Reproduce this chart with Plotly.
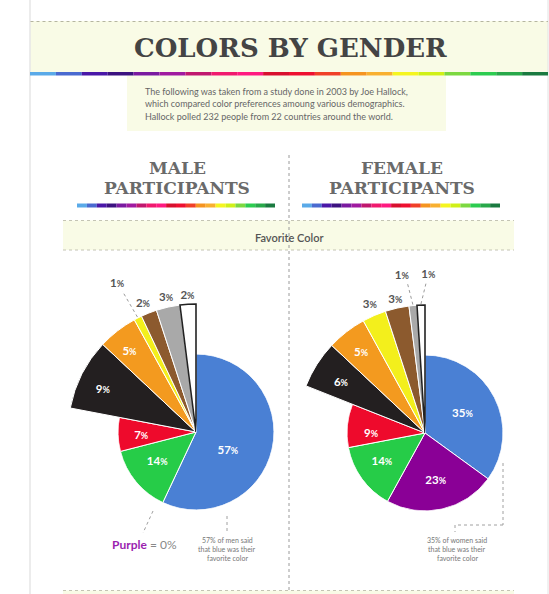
import math
import plotly.graph_objects as go

# ---------------- data ----------------
CATEGORIES = ["Blue", "Purple", "Green", "Red", "Black", "Orange", "Yellow", "Brown", "Grey", "White"]
MALE_PCT = [57, 0, 14, 7, 9, 5, 1, 2, 3, 2]
FEMALE_PCT = [35, 23, 14, 9, 6, 5, 3, 3, 1, 1]

TITLE = "COLORS BY GENDER"
INTRO_LINES = [
    "The following was taken from a study done in 2003 by Joe Hallock,",
    "which compared color preferences amoung various demographics.",
    "Hallock polled 232 people from 22 countries around the world.",
]
PANEL_TITLES = [("MALE", "PARTICIPANTS"), ("FEMALE", "PARTICIPANTS")]
SECTION_TITLE = "Favorite Color"
NOTES = [
    ["57% of men said", "that blue was their", "favorite color"],
    ["35% of women said", "that blue was their", "favorite color"],
]
ZERO_NOTE = ("Purple", "= 0%")

# ---------------- style ----------------
W, H = 549, 594
SLICE_COLORS = {
    "Blue": "#4a80d4", "Purple": "#8a0096", "Green": "#26cc48", "Red": "#ee0a2c",
    "Black": "#231f20", "Orange": "#f39a1f", "Yellow": "#f3ef1c", "Brown": "#8c5a2e",
    "Grey": "#a9a9a9", "White": "#ffffff",
}
RAISED = {"Black", "Orange", "Yellow", "Brown", "Grey", "White"}
R_LOW, R_HIGH, R_MAX = 78, 128, 170
STRIPE = ["#5aaae8", "#4a6ad0", "#4a18a8", "#3c1280", "#7a1aa0", "#a01aa0", "#c0186e",
          "#f01a6e", "#ff1a80", "#d8102e", "#ee1030", "#f04028", "#f59420", "#f8b030",
          "#f5f520", "#d0f018", "#7cd840", "#2ccc50", "#28a84a", "#1a7a40"]
BAND = "#f9fbe6"
SANS = "Lato"
SERIF = "DejaVu Serif"

# label placement: category -> (radius, theta nudge, inside?)
LABEL_POS = [
    {"Blue": (37, 18, True), "Green": (49, 2, True), "Red": (55, -3, True),
     "Black": (102, -3, True), "Orange": (104, -2, True), "Yellow": (168, -1, False),
     "Brown": (138, -1, False), "Grey": (137, 0, False), "White": (136, 0, False)},
    {"Blue": (42, 0, True), "Purple": (49, 0, True), "Green": (52, 2, True), "Red": (54, -7, True),
     "Black": (98, -1.5, True), "Orange": (102, -1, True), "Yellow": (139, 0, False),
     "Brown": (136, 0, False), "Grey": (159, -3, False), "White": (158, 3, False)},
]
# dotted leaders for thin slices: category -> (r0, r1, theta nudge at top)
LEADERS = [
    {"Yellow": (129, 159, -0.6)},
    {"Grey": (129, 151, -1.3), "White": (129, 151, 2.3)},
]
CENTERS = [(196, 432), (425, 433)]
SECTOR_HIGH = [85, 185]


def px(x):
    return x / W


def py(y):
    return 1 - y / H


def bbox(sector):
    a0, a1 = sector
    xs, ys = [0.0], [0.0]
    for a in (a0, a1):
        xs.append(math.cos(math.radians(a)))
        ys.append(math.sin(math.radians(a)))
    for a in (0, 90, 180, 270, 360):
        if a0 <= a <= a1:
            xs.append(math.cos(math.radians(a)))
            ys.append(math.sin(math.radians(a)))
    return min(xs), min(ys), max(xs), max(ys)


def domain(cx, cy, R, sector):
    x0, y0, x1, y1 = bbox(sector)
    left, right = cx + R * x0, cx + R * x1
    top, bottom = cy - R * y1, cy - R * y0
    return dict(x=[px(left), px(right)], y=[py(bottom), py(top)])


fig = go.Figure()
layout_polars = {}
annotations = []
shapes = []

for gi, values in enumerate([MALE_PCT, FEMALE_PCT]):
    cx, cy = CENTERS[gi]
    low_key = "polar" if gi == 0 else f"polar{2 * gi + 1}"
    high_key = f"polar{2 * gi + 2}"

    cum = 0.0
    centers = {}
    widths = {}
    for cat, v in zip(CATEGORIES, values):
        centers[cat] = (cum + v / 2) * 3.6
        widths[cat] = v * 3.6
        cum += v

    for raised, ref in ((False, low_key), (True, high_key)):
        cats = [c for c, v in zip(CATEGORIES, values) if v > 0 and ((c in RAISED) == raised)]
        rad = R_HIGH if raised else R_LOW
        fig.add_trace(go.Barpolar(
            r=[rad] * len(cats),
            theta=[centers[c] for c in cats],
            width=[widths[c] for c in cats],
            marker=dict(
                color=[SLICE_COLORS[c] for c in cats],
                line=dict(color=["#222222" if c == "White" else "#ffffff" for c in cats],
                          width=[1.6 if c == "White" else 1 for c in cats]),
            ),
            subplot=ref, showlegend=False, hoverinfo="skip",
        ))

        lab_cats = [c for c in cats if c in LABEL_POS[gi]]
        texts, rs, ths, cols = [], [], [], []
        for c in lab_cats:
            r_l, dth, inside = LABEL_POS[gi][c]
            v = values[CATEGORIES.index(c)]
            texts.append(f"<b>{v}<span style='font-size:9px'>%</span></b>")
            rs.append(r_l)
            ths.append(centers[c] + dth)
            cols.append("#ffffff" if inside else "#555555")
        fig.add_trace(go.Scatterpolar(
            r=rs, theta=ths, mode="text", text=texts,
            textfont=dict(family=SANS, size=11.5, color=cols),
            textposition="middle center", cliponaxis=False,
            subplot=ref, showlegend=False, hoverinfo="skip",
        ))

        if raised:
            for c, (r0, r1, dth) in LEADERS[gi].items():
                fig.add_trace(go.Scatterpolar(
                    r=[r0, r1], theta=[centers[c], centers[c] + dth], mode="lines",
                    line=dict(color="#9a9a9a", width=1, dash="dot"),
                    subplot=ref, showlegend=False, hoverinfo="skip",
                ))

    common = dict(
        bgcolor="rgba(0,0,0,0)",
        angularaxis=dict(visible=False, rotation=90, direction="clockwise",
                         showgrid=False, showline=False, showticklabels=False, ticks=""),
    )
    layout_polars[low_key] = dict(
        domain=domain(cx, cy, R_LOW, [0, 360]),
        radialaxis=dict(visible=False, range=[0, R_LOW], showgrid=False),
        **common,
    )
    layout_polars[high_key] = dict(
        domain=domain(cx, cy, R_MAX, SECTOR_HIGH), sector=SECTOR_HIGH,
        radialaxis=dict(visible=False, range=[0, R_MAX], showgrid=False),
        **common,
    )

# ---------------- page decoration ----------------
shapes.append(dict(type="line", xref="paper", yref="paper", x0=px(30), x1=px(30), y0=0, y1=1,
                   line=dict(color="#d9d9d9", width=1)))
shapes.append(dict(type="line", xref="paper", yref="paper", x0=px(548), x1=px(548), y0=0, y1=1,
                   line=dict(color="#e2e2e2", width=1)))
shapes.append(dict(type="rect", xref="paper", yref="paper", x0=px(30.5), x1=px(548), y0=py(72), y1=py(21),
                   fillcolor=BAND, line=dict(width=0), layer="below"))
shapes.append(dict(type="line", xref="paper", yref="paper", x0=px(30.5), x1=px(548), y0=py(21.5), y1=py(21.5),
                   line=dict(color="#b5b5a0", width=1, dash="dot")))
seg = (548 - 30) / len(STRIPE)
for i, col in enumerate(STRIPE):
    shapes.append(dict(type="rect", xref="paper", yref="paper", x0=px(30 + i * seg), x1=px(30 + (i + 1) * seg),
                       y0=py(75.5), y1=py(72), fillcolor=col, line=dict(width=0)))
shapes.append(dict(type="rect", xref="paper", yref="paper", x0=px(127), x1=px(446), y0=py(131), y1=py(75.5),
                   fillcolor=BAND, line=dict(width=0), layer="below"))
for x0 in (77, 302):
    sw = 198 / len(STRIPE)
    for i, col in enumerate(STRIPE):
        shapes.append(dict(type="rect", xref="paper", yref="paper", x0=px(x0 + i * sw), x1=px(x0 + (i + 1) * sw),
                           y0=py(207.5), y1=py(203.5), fillcolor=col, line=dict(width=0)))
shapes.append(dict(type="line", xref="paper", yref="paper", x0=px(289), x1=px(289), y0=py(590), y1=py(155),
                   line=dict(color="#9a9a9a", width=1, dash="dot")))
shapes.append(dict(type="rect", xref="paper", yref="paper", x0=px(63), x1=px(514), y0=py(250), y1=py(220.5),
                   fillcolor=BAND, line=dict(width=0), layer="below"))
for yy in (220.5, 250):
    shapes.append(dict(type="line", xref="paper", yref="paper", x0=px(63), x1=px(514), y0=py(yy), y1=py(yy),
                       line=dict(color="#c4c4b4", width=1, dash="dot")))
shapes.append(dict(type="rect", xref="paper", yref="paper", x0=px(63), x1=px(514), y0=0, y1=py(590.5),
                   fillcolor=BAND, line=dict(width=0), layer="below"))
shapes.append(dict(type="line", xref="paper", yref="paper", x0=px(63), x1=px(514), y0=py(590.5), y1=py(590.5),
                   line=dict(color="#c4c4b4", width=1, dash="dot")))


def dotted(pts):
    for (x0, y0), (x1, y1) in zip(pts[:-1], pts[1:]):
        shapes.append(dict(type="line", xref="paper", yref="paper", x0=px(x0), x1=px(x1), y0=py(y0), y1=py(y1),
                           line=dict(color="#a0a0a0", width=1, dash="dot")))


dotted([(153, 511), (143, 533)])
dotted([(227, 516), (227, 531)])
dotted([(503, 463), (503, 525), (455, 525), (455, 532)])


# ---------------- text ----------------
def note(x, y, text, font, xanchor="center"):
    annotations.append(dict(x=px(x), y=py(y), xref="paper", yref="paper", text=text, showarrow=False,
                            xanchor=xanchor, yanchor="middle", font=font))


note(290, 48, f"<b>{TITLE}</b>", dict(family=SERIF, size=26, color="#444444"))
for i, line in enumerate(INTRO_LINES):
    note(143, 91 + i * 12.5, line, dict(family=SANS, size=9, color="#666666"), xanchor="left")
for (l1, l2), cx in zip(PANEL_TITLES, (177, 402)):
    note(cx, 168, f"<b>{l1}</b>", dict(family=SERIF, size=17, color="#6a6a6a"))
    note(cx, 187.5, f"<b>{l2}</b>", dict(family=SERIF, size=17, color="#6a6a6a"))
note(289, 237, SECTION_TITLE, dict(family=SANS, size=11, color="#555555", weight=600))
for lines, cx in zip(NOTES, (227, 457)):
    for i, line in enumerate(lines):
        note(cx, 540 + i * 9, line, dict(family=SANS, size=7, color="#777777"))
note(144, 544, f"<b><span style='color:#9b1fb0'>{ZERO_NOTE[0]}</span></b> {ZERO_NOTE[1]}",
     dict(family=SANS, size=12, color="#888888"))

fig.update_layout(
    width=W, height=H, margin=dict(l=0, r=0, t=0, b=0),
    paper_bgcolor="white", plot_bgcolor="white",
    xaxis=dict(visible=False), yaxis=dict(visible=False),
    shapes=shapes, annotations=annotations,
    **layout_polars,
)

fig.write_html("out.html", config={"displayModeBar": False},
               post_script="document.body.style.margin='0px';document.body.style.overflow='hidden';")
